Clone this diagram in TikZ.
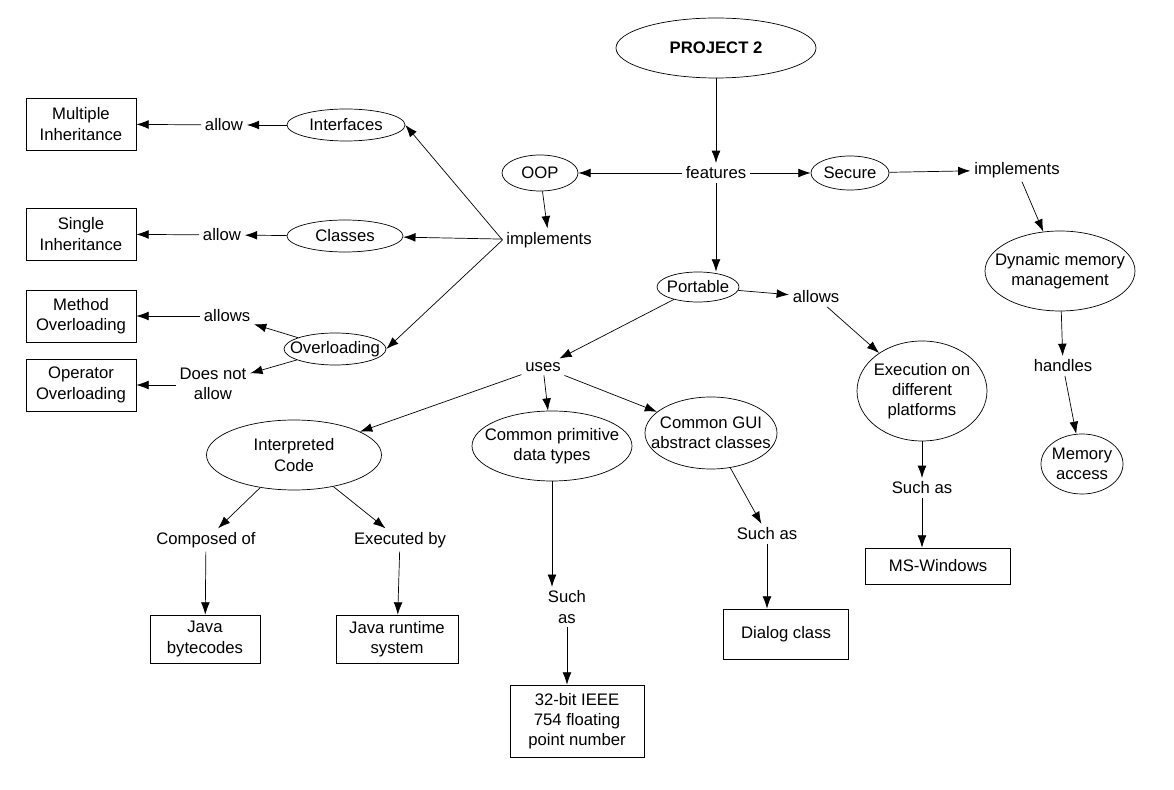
\documentclass[tikz,border=0pt]{standalone}
\usepackage{fontspec}
\setmainfont{Liberation Sans}
\usetikzlibrary{shapes.geometric,arrows.meta}
\begin{document}
\begin{tikzpicture}[x=0.02cm,y=-0.02cm,font=\fontsize{9.5}{11.5}\selectfont,
 el/.style={ellipse,draw,inner xsep=-9pt,inner ysep=-4pt,align=center},
 bx/.style={rectangle,draw,inner sep=0pt,align=center},
 tx/.style={inner sep=2pt,align=center},
 a/.style={-{Latex[length=7pt,width=5pt]},black}]
\useasboundingbox (0,0) rectangle (1174,790);
\node[el,minimum width=200*0.02cm,minimum height=60*0.02cm,font=\fontsize{9.5}{11.5}\selectfont\bfseries] (p) at (716,48) {PROJECT 2};
\node[tx] (f) at (716,173) {features};
\node[el,minimum width=76*0.02cm,minimum height=36*0.02cm] (oop) at (540,173) {OOP};
\node[tx] (imL) at (549,240) {implements};
\node[el,minimum width=78*0.02cm,minimum height=34*0.02cm] (sec) at (850,173) {Secure};
\node[tx] (imR) at (1017,170) {implements};
\node[el,minimum width=150*0.02cm,minimum height=80*0.02cm] (dyn) at (1060,271) {Dynamic memory\\management};
\node[tx] (han) at (1063,366) {handles};
\node[el,minimum width=82*0.02cm,minimum height=60*0.02cm] (mem) at (1082,464) {Memory\\access};
\node[el,minimum width=82*0.02cm,minimum height=30*0.02cm] (por) at (698,287) {Portable};
\node[tx] (alw) at (816,297) {allows};
\node[el,minimum width=130*0.02cm,minimum height=100*0.02cm] (exe) at (922,391) {Execution on\\different\\platforms};
\node[tx] (sa1) at (922,488) {Such as};
\node[bx,minimum width=145*0.02cm,minimum height=36*0.02cm] (ms) at (938,566) {MS-Windows};
\node[tx] (uses) at (543,367) {uses};
\node[el,minimum width=132*0.02cm,minimum height=72*0.02cm] (gui) at (711,433) {Common GUI\\abstract classes};
\node[tx] (sa2) at (767,534) {Such as};
\node[bx,minimum width=125*0.02cm,minimum height=50*0.02cm] (dlg) at (786,634) {Dialog class};
\node[el,minimum width=160*0.02cm,minimum height=70*0.02cm] (prim) at (552,446) {Common primitive\\data types};
\node[tx] (sa3) at (567,607) {Such\\as};
\node[bx,minimum width=134*0.02cm,minimum height=72*0.02cm] (ieee) at (577,721) {32-bit IEEE\\754 floating\\point number};
\node[el,minimum width=175*0.02cm,minimum height=70*0.02cm] (int) at (294,455) {Interpreted\\Code};
\node[tx] (comp) at (206,540) {Composed of};
\node[tx] (exby) at (400,540) {Executed by};
\node[bx,minimum width=110*0.02cm,minimum height=48*0.02cm] (jb) at (205,639) {Java\\bytecodes};
\node[bx,minimum width=122*0.02cm,minimum height=48*0.02cm] (jr) at (397,639) {Java runtime\\system};
\node[el,minimum width=118*0.02cm,minimum height=32*0.02cm] (ifc) at (346,125) {Interfaces};
\node[tx] (al1) at (224,125) {allow};
\node[bx,minimum width=110*0.02cm,minimum height=52*0.02cm] (mi) at (81,124) {Multiple\\Inheritance};
\node[el,minimum width=116*0.02cm,minimum height=32*0.02cm] (cls) at (345,236) {Classes};
\node[tx] (al2) at (222,235) {allow};
\node[bx,minimum width=110*0.02cm,minimum height=52*0.02cm] (si) at (81,234) {Single\\Inheritance};
\node[el,minimum width=102*0.02cm,minimum height=32*0.02cm] (ovl) at (335,349) {Overloading};
\node[tx] (al3) at (227,316) {allows};
\node[bx,minimum width=110*0.02cm,minimum height=52*0.02cm] (mo) at (81,316) {Method\\Overloading};
\node[tx] (dna) at (213,384) {Does not\\allow};
\node[bx,minimum width=110*0.02cm,minimum height=52*0.02cm] (oo) at (81,385) {Operator\\Overloading};

\draw[a] (p) -- (f);
\draw[a] (f) -- (oop);
\draw[a] (f) -- (sec);
\draw[a] (f.south) -- (f.south|-por.north);
\draw[a] (oop) -- (imL);
\draw[a] (imL.west) -- (ifc.east);
\draw[a] (imL) -- (cls);
\draw[a] (imL.west) -- (ovl.east);
\draw[a] (ifc) -- (al1);
\draw[a] (al1) -- (mi);
\draw[a] (cls) -- (al2);
\draw[a] (al2) -- (si);
\draw[a] (ovl) -- (al3);
\draw[a] (al3) -- (mo);
\draw[a] (ovl) -- (dna);
\draw[a] (dna.west|-oo) -- (oo);
\draw[a] (sec) -- (imR);
\draw[a] (imR) -- (dyn);
\draw[a] (dyn) -- (han);
\draw[a] (han) -- (mem);
\draw[a] (por) -- (alw);
\draw[a] (alw) -- (exe);
\draw[a] (exe) -- (sa1);
\draw[a] (sa1) -- (sa1|-ms.north);
\draw[a] (por) -- (uses);
\draw[a] (uses) -- (int);
\draw[a] (uses) -- (prim);
\draw[a] (uses) -- (gui);
\draw[a] (gui) -- (sa2);
\draw[a] (sa2) -- (sa2|-dlg.north);
\draw[a] (prim) -- (prim|-sa3.north);
\draw[a] (sa3) -- (sa3|-ieee.north);
\draw[a] (int) -- (comp);
\draw[a] (int) -- (exby);
\draw[a] (comp) -- (jb);
\draw[a] (exby) -- (jr);
\end{tikzpicture}
\end{document}
